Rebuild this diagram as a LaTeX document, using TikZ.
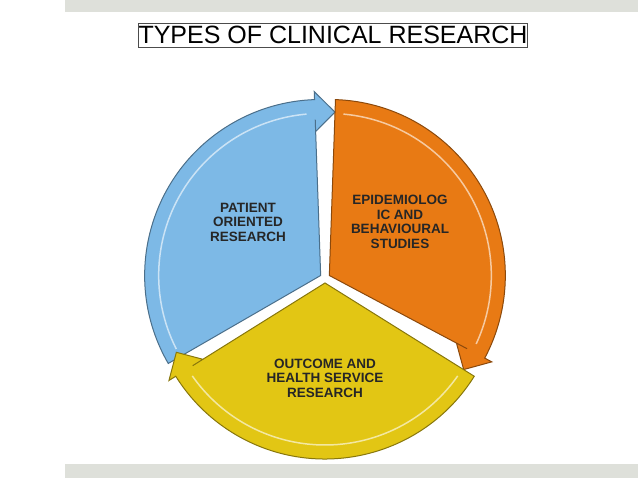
\documentclass[tikz,border=0pt]{standalone}
\usepackage{fontspec}
\setmainfont{Liberation Sans}
\definecolor{bluecol}{RGB}{125,185,230}
\definecolor{orangecol}{RGB}{232,122,20}
\definecolor{yellowcol}{RGB}{226,198,20}
\definecolor{barcol}{RGB}{222,224,218}
\def\R{176}
\tikzset{
	lbl/.style={font=\bfseries\fontsize{13.5}{14.5}\selectfont,align=center,text=black!85},
	% one sector, clockwise from #1 to #2
	sector/.style={draw=#1!60!black,line width=1pt,fill=#1},
	rim/.style={draw=white!60!#1,line width=1.5pt}
}
\newcommand{\sectr}[4]{% start, end, colour, shift angle
	\begin{scope}[shift={(#4:5)}]
	\draw[sector=#3] (0,0) -- (#1:\R) arc[start angle=#1,end angle=#2,radius=\R]
	-- (#2:\R+8) -- (#2-7:\R-12) -- (#2:\R-32) -- (#2:\R-20) -- cycle;
	\draw[rim=#3] (#1-3:\R-14) arc[start angle=#1-3,end angle=#2+3,radius=\R-14];
	\end{scope}}
\begin{document}
\begin{tikzpicture}[x=1pt,y=1pt]
	\useasboundingbox (0,0) rectangle (638,478);
	\fill[barcol] (65,466) rectangle (638,478);
	\fill[barcol] (65,0) rectangle (638,14);
	% title
	\node[draw=black!70,line width=0.4pt,inner xsep=0pt,inner ysep=3pt,
	font=\fontsize{25}{26}\selectfont] (title) at (333,443) {TYPES OF CLINICAL RESEARCH};
	\begin{scope}[shift={(325,200)}]
		\sectr{210}{92}{bluecol}{150}
		\sectr{88}{-28}{orangecol}{30}
		\sectr{-32}{-148}{yellowcol}{270}
	\end{scope}
	\node[lbl] (pat) at (248,256) {PATIENT\\ORIENTED\\RESEARCH};
	\node[lbl] (epi) at (400,256) {EPIDEMIOLOG\\IC AND\\BEHAVIOURAL\\STUDIES};
	\node[lbl] (out) at (325,100) {OUTCOME AND\\HEALTH SERVICE\\RESEARCH};
\end{tikzpicture}
\end{document}
